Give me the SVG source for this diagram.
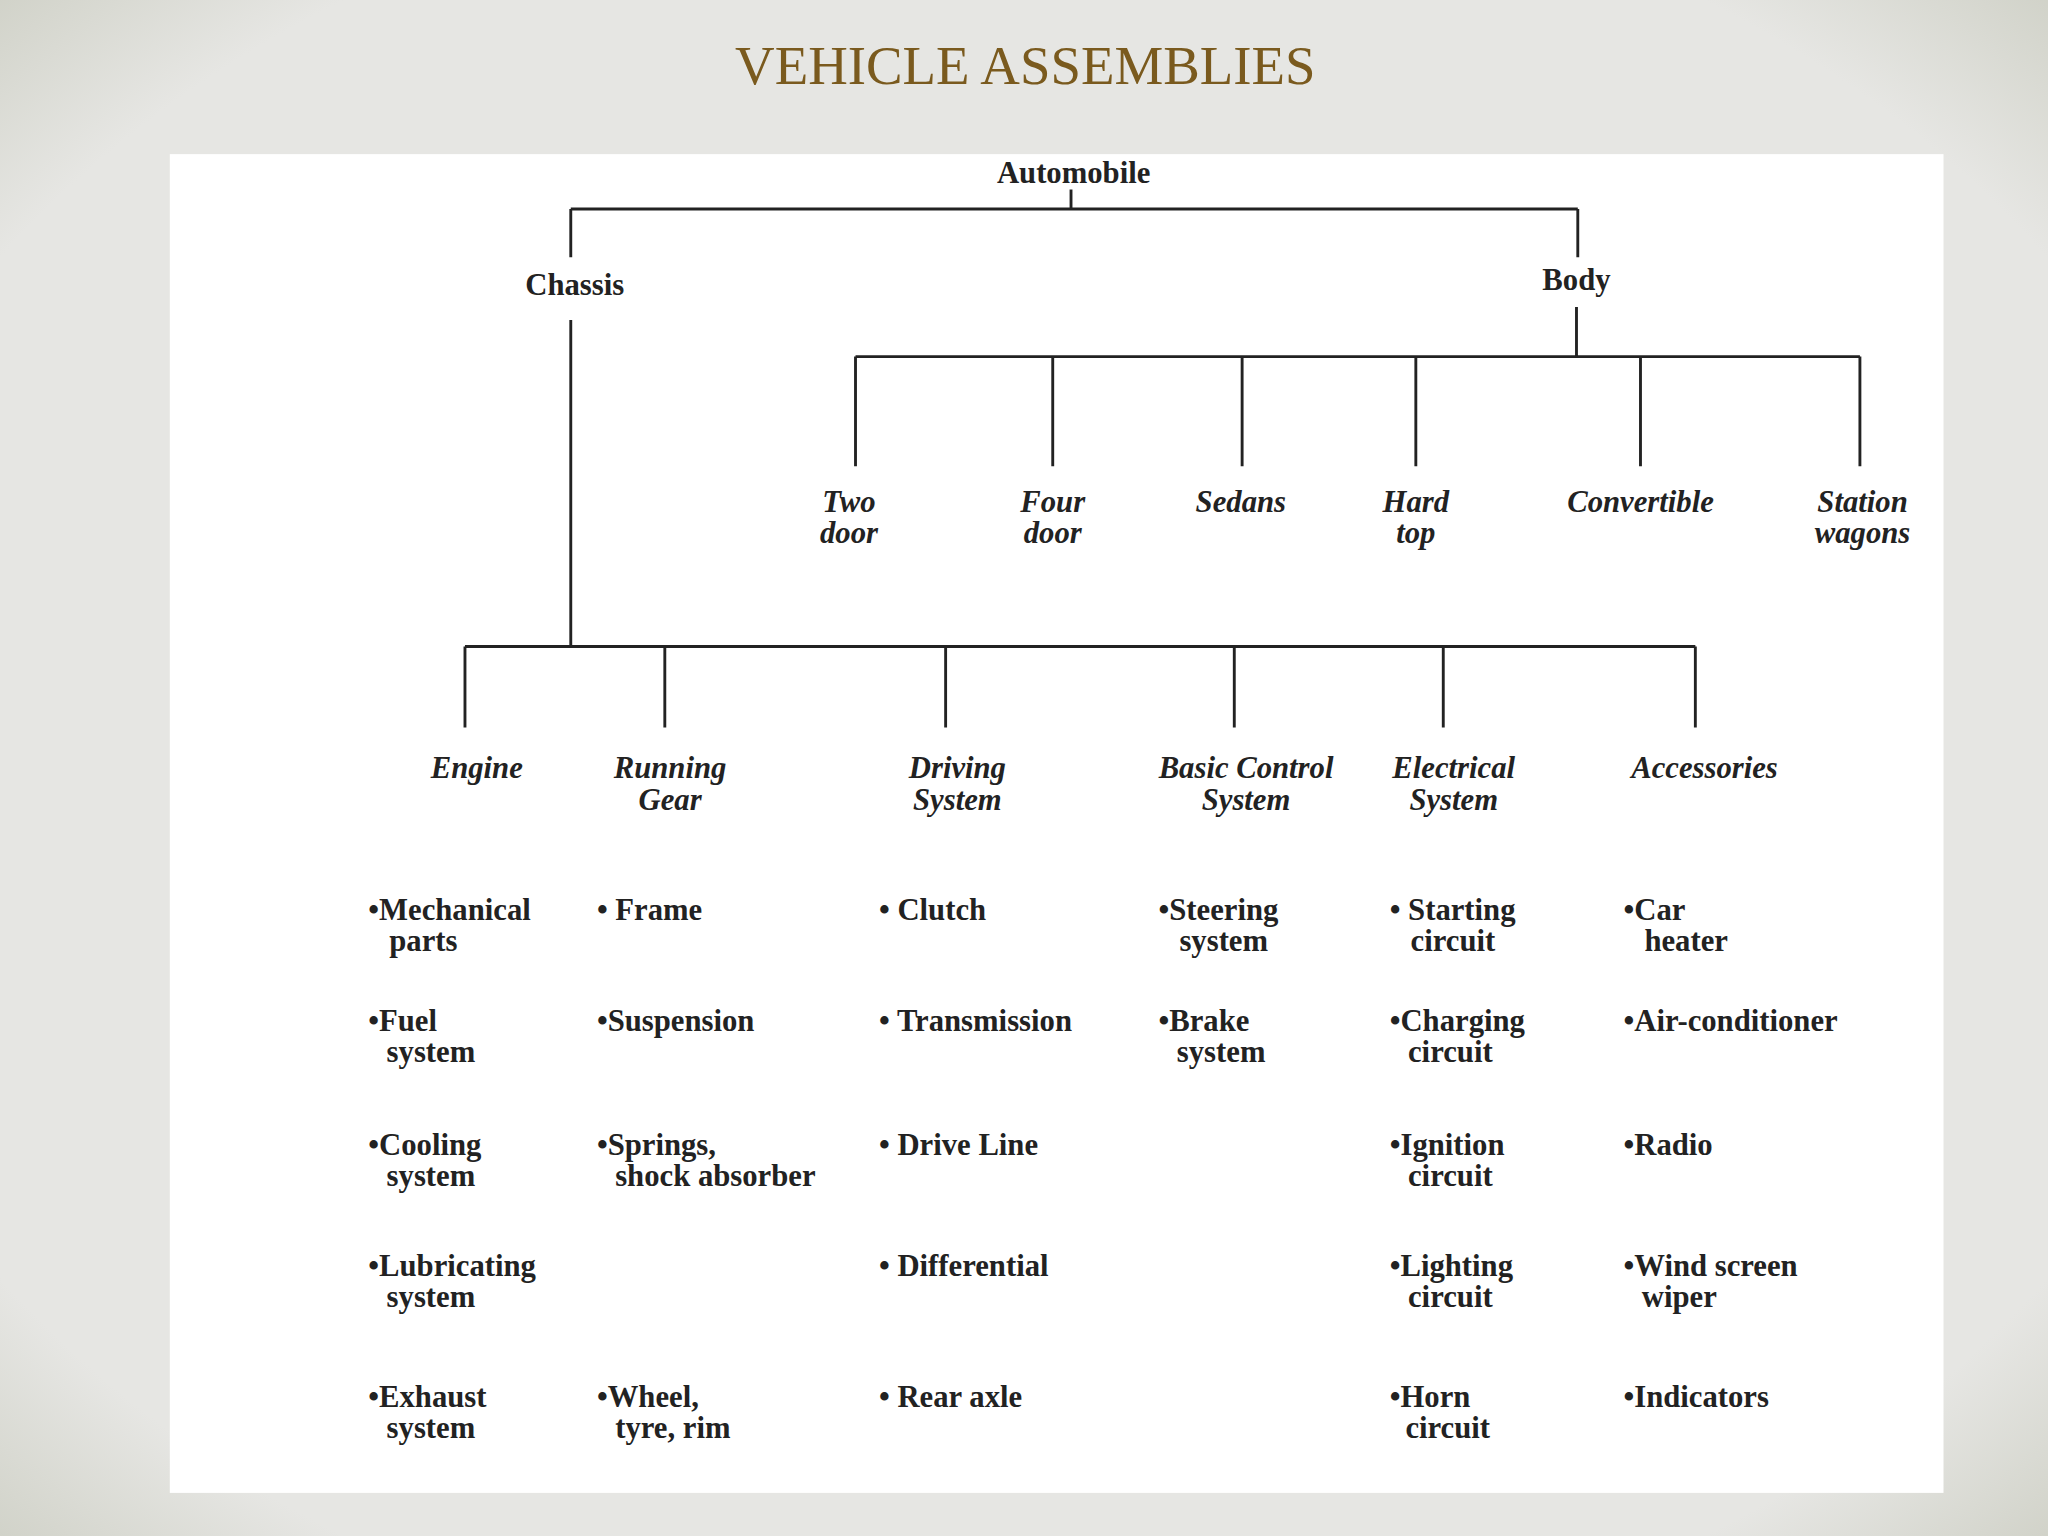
<svg xmlns="http://www.w3.org/2000/svg" width="2048" height="1536" viewBox="0 0 2048 1536">
<defs>
<radialGradient id="bg" cx="50%" cy="50%" r="75%"><stop offset="0.8" stop-color="#e6e6e3"/><stop offset="1" stop-color="#c9cbbf"/></radialGradient>
<style>
.ln{stroke:#222;stroke-width:2.2;fill:none}
.t{font-family:"Liberation Serif",serif;fill:#222;font-size:23.5px}
.b{font-weight:bold}
.i{font-style:italic;font-weight:bold;text-anchor:middle}
.c{text-anchor:middle}
</style>
</defs>
<rect width="2048" height="1536" fill="url(#bg)"/>
<g transform="scale(1.30612)">
<rect x="130" y="118" width="1358" height="1025" fill="#fff"/>
<text x="785" y="64" font-family="Liberation Serif,serif" font-size="42" fill="#7a5a1e" text-anchor="middle">VEHICLE ASSEMBLIES</text>
<g id="connectors" class="ln">
<path d="M820 145V160M437 160H1208M437 160V197M1208 160V197"/>
<path d="M1207 235V273M655 273H1424M655 273V357M806 273V357M951 273V357M1084 273V357M1256 273V357M1424 273V357"/>
<path d="M437 245V495M356 495H1298M356 495V557M509 495V557M724 495V557M945 495V557M1105 495V557M1298 495V557"/>
</g>
<g class="t">
<g id="automobile"><text x="822" y="140" class="b c">Automobile</text></g>
<g id="chassis"><text x="440" y="226" class="b c">Chassis</text></g>
<g id="body"><text x="1207" y="222" class="b c">Body</text></g>
<g id="body-types" class="i">
<text x="650" y="392">Two</text><text x="650" y="416">door</text>
<text x="806" y="392">Four</text><text x="806" y="416">door</text>
<text x="950" y="392">Sedans</text>
<text x="1084" y="392">Hard</text><text x="1084" y="416">top</text>
<text x="1256" y="392">Convertible</text>
<text x="1426" y="392">Station</text><text x="1426" y="416">wagons</text>
</g>
<g id="categories" class="i">
<text x="365" y="596">Engine</text>
<text x="513" y="596">Running</text><text x="513" y="620">Gear</text>
<text x="733" y="596">Driving</text><text x="733" y="620">System</text>
<text x="954" y="596">Basic Control</text><text x="954" y="620">System</text>
<text x="1113" y="596">Electrical</text><text x="1113" y="620">System</text>
<text x="1305" y="596">Accessories</text>
</g>
<g id="engine-items" class="b">
<text x="282" y="704">•Mechanical</text><text x="298" y="728">parts</text>
<text x="282" y="789">•Fuel</text><text x="296" y="813">system</text>
<text x="282" y="884">•Cooling</text><text x="296" y="908">system</text>
<text x="282" y="977">•Lubricating</text><text x="296" y="1001">system</text>
<text x="282" y="1077">•Exhaust</text><text x="296" y="1101">system</text>
</g>
<g id="running-items" class="b">
<text x="457" y="704">• Frame</text>
<text x="457" y="789">•Suspension</text>
<text x="457" y="884">•Springs,</text><text x="471" y="908">shock absorber</text>
<text x="457" y="1077">•Wheel,</text><text x="471" y="1101">tyre, rim</text>
</g>
<g id="driving-items" class="b">
<text x="673" y="704">• Clutch</text>
<text x="673" y="789">• Transmission</text>
<text x="673" y="884">• Drive Line</text>
<text x="673" y="977">• Differential</text>
<text x="673" y="1077">• Rear axle</text>
</g>
<g id="control-items" class="b">
<text x="887" y="704">•Steering</text><text x="903" y="728">system</text>
<text x="887" y="789">•Brake</text><text x="901" y="813">system</text>
</g>
<g id="electrical-items" class="b">
<text x="1064" y="704">• Starting</text><text x="1080" y="728">circuit</text>
<text x="1064" y="789">•Charging</text><text x="1078" y="813">circuit</text>
<text x="1064" y="884">•Ignition</text><text x="1078" y="908">circuit</text>
<text x="1064" y="977">•Lighting</text><text x="1078" y="1001">circuit</text>
<text x="1064" y="1077">•Horn</text><text x="1076" y="1101">circuit</text>
</g>
<g id="accessory-items" class="b">
<text x="1243" y="704">•Car</text><text x="1259" y="728">heater</text>
<text x="1243" y="789">•Air-conditioner</text>
<text x="1243" y="884">•Radio</text>
<text x="1243" y="977">•Wind screen</text><text x="1257" y="1001">wiper</text>
<text x="1243" y="1077">•Indicators</text>
</g>
</g>
</g>
</svg>
